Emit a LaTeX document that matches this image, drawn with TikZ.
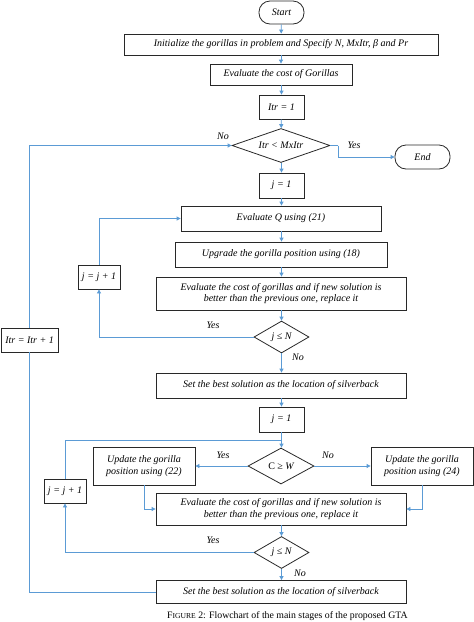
\documentclass[tikz,border=0pt]{standalone}
\usepackage{fontspec}
\setmainfont{Liberation Serif}
\usetikzlibrary{arrows.meta,shapes.geometric}
\definecolor{lineblue}{RGB}{91,155,213}
\definecolor{boxgray}{RGB}{40,40,40}
\begin{document}
\begin{tikzpicture}[x=1pt,y=-1pt,
  every node/.style={font=\fontsize{10}{11.5}\selectfont\itshape},
  procbox/.style={draw=boxgray,line width=0.8pt,rectangle,inner sep=0pt,align=center},
  termbox/.style={draw=boxgray,line width=0.8pt,rectangle,rounded corners=11pt,inner sep=0pt},
  decbox/.style={draw=boxgray,line width=0.8pt,diamond,inner sep=0pt},
  flow/.style={draw=lineblue,line width=0.8pt,-{Triangle[length=4pt,width=4pt]}},
  link/.style={draw=lineblue,line width=0.8pt},
  lbl/.style={font=\fontsize{10}{11.5}\selectfont\itshape,inner sep=0pt}]
\useasboundingbox (0,0) rectangle (474,622);
% nodes
\node[termbox,minimum width=45pt,minimum height=23pt] (start) at (281.5,12.5) {Start};
\node[procbox,minimum width=314pt,minimum height=21pt] (init) at (281,44.5) {Initialize the gorillas in problem and Specify N, MxItr, β and Pr};
\node[procbox,minimum width=142pt,minimum height=21pt] (evalg) at (281,74.5) {Evaluate the cost of Gorillas};
\node[procbox,minimum width=45pt,minimum height=24pt] (itr1) at (281.5,107) {Itr = 1};
\node[decbox,minimum width=98pt,minimum height=34pt,aspect=2.9] (d1) at (281,145.5) {Itr < MxItr};
\node[termbox,minimum width=55pt,minimum height=24pt] (end) at (422.5,157) {End};
\node[procbox,minimum width=45pt,minimum height=25pt] (j1a) at (281.5,185.5) {j = 1};
\node[procbox,minimum width=200pt,minimum height=25pt] (evq) at (281,218.5) {Evaluate Q using (21)};
\node[procbox,minimum width=212pt,minimum height=25pt] (upg) at (281,254.5) {Upgrade the gorilla position using (18)};
\node[procbox,minimum width=250pt,minimum height=33pt] (evc1) at (281,293.5) {Evaluate the cost of gorillas and if new solution is\\better than the previous one, replace it};
\node[procbox,minimum width=42pt,minimum height=24pt] (jp1) at (99,277) {j = j + 1};
\node[decbox,minimum width=55pt,minimum height=32pt,aspect=1.72] (d2) at (281.5,337) {j ≤ N};
\node[procbox,minimum width=250pt,minimum height=25pt] (best1) at (281,385.5) {Set the best solution as the location of silverback};
\node[procbox,minimum width=45pt,minimum height=25pt] (j1b) at (281.5,419.5) {j = 1};
\node[decbox,minimum width=66pt,minimum height=36pt,aspect=1.83] (d3) at (281,466) {{\upshape C} ≥ W};
\node[procbox,minimum width=102pt,minimum height=38pt] (upl) at (144,466) {Update the gorilla\\position using (22)};
\node[procbox,minimum width=102pt,minimum height=38pt] (upr) at (422,466) {Update the gorilla\\position using (24)};
\node[procbox,minimum width=250pt,minimum height=32pt] (evc2) at (281,509) {Evaluate the cost of gorillas and if new solution is\\better than the previous one, replace it};
\node[procbox,minimum width=42pt,minimum height=24pt] (jp2) at (65,491) {j = j + 1};
\node[decbox,minimum width=55pt,minimum height=32pt,aspect=1.72] (d4) at (281.5,552.5) {j ≤ N};
\node[procbox,minimum width=250pt,minimum height=23pt] (best2) at (281,592) {Set the best solution as the location of silverback};
\node[procbox,minimum width=57pt,minimum height=24pt] (itrp) at (29.5,340) {Itr = Itr + 1};
% coordinates
\coordinate (yesturn) at (338,145.5);
\coordinate (jn) at (281.5,440);
% connectors
\draw[flow] (start) -- (init);
\draw[flow] (init) -- (evalg);
\draw[flow] (evalg.south -| itr1) -- (itr1);
\draw[flow] (itr1) -- (d1);
\draw[link] (d1.east) -- (yesturn);
\draw[flow] (yesturn) |- (end.west);
\draw[flow] (d1.south -| j1a) -- (j1a);
\draw[flow] (j1a) -- (evq.north -| j1a);
\draw[flow] (evq.south -| j1a) -- (upg.north -| j1a);
\draw[flow] (upg.south -| j1a) -- (evc1.north -| j1a);
\draw[flow] (evc1.south -| d2) -- (d2);
\draw[flow] (d2.west) -| (jp1.south);
\draw[flow] (jp1.north) |- (evq.west);
\draw[flow] (d2) -- (best1.north -| d2);
\draw[flow] (best1.south -| j1b) -- (j1b);
\draw[flow] (j1b) -- (d3.north -| j1b);
\draw[link] (jp2.north) |- (jn);
\draw[flow] (d3.west) -- (upl.east);
\draw[flow] (d3.east) -- (upr.west);
\draw[flow] (upl.south) |- (evc2.west);
\draw[flow] (upr.south) |- (evc2.east);
\draw[flow] (evc2.south -| d4) -- (d4);
\draw[flow] (d4.west) -| (jp2.south);
\draw[flow] (d4) -- (best2.north -| d4);
\draw[link] (best2.west) -| (itrp.south);
\draw[flow] (itrp.north) |- (d1.west);
% labels
\node[lbl] (lno1) at (223,136) {No};
\node[lbl] (lyes1) at (354,145) {Yes};
\node[lbl] (lyes2) at (213,325) {Yes};
\node[lbl] (lno2) at (298,357) {No};
\node[lbl] (lyes3) at (223,455) {Yes};
\node[lbl] (lno3) at (328,455) {No};
\node[lbl] (lyes4) at (213,540) {Yes};
\node[lbl] (lno4) at (300,573) {No};
\node[anchor=base west,inner sep=0pt,font=\fontsize{9.8}{12}\selectfont\upshape] (cap) at (167,618.5) {F{\fontsize{7.6}{10}\selectfont IGURE} 2: Flowchart of the main stages of the proposed GTA};
\end{tikzpicture}
\end{document}
